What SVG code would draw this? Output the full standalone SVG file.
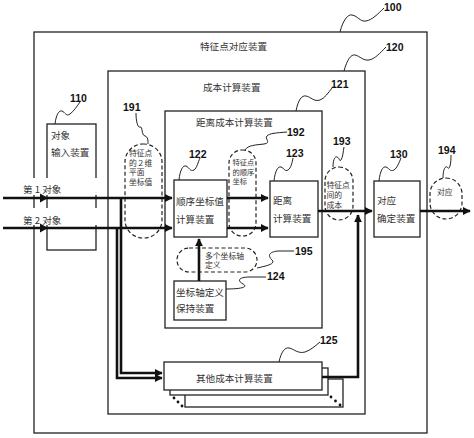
<svg xmlns="http://www.w3.org/2000/svg" width="474" height="438" viewBox="0 0 474 438">
<defs>
<style>
.box{fill:#fff;stroke:#222;stroke-width:1.3}
.frame{fill:none;stroke:#222;stroke-width:1.3}
.oval{fill:none;stroke:#222;stroke-width:1.2;stroke-dasharray:4 2.5}
.t{font-family:"Noto Sans CJK SC","Noto Sans",sans-serif;fill:#333;font-size:9.6px}
.ts{font-family:"Noto Sans CJK SC","Noto Sans",sans-serif;fill:#333;font-size:7.8px}
.tx{font-family:"Noto Sans CJK SC","Noto Sans",sans-serif;fill:#333;font-size:7.3px}
.num{font-family:"Liberation Sans",Arial,sans-serif;font-weight:bold;fill:#111;font-size:10.5px}
.lead{fill:none;stroke:#222;stroke-width:1}
.arr{fill:none;stroke:#111;stroke-width:2.6}
.head{fill:#111}
</style>
<marker id="ah" viewBox="0 0 10 10" refX="9" refY="5" markerWidth="3.2" markerHeight="3" orient="auto" markerUnits="strokeWidth">
<path d="M0,0 L10,5 L0,10 z" fill="#111"/>
</marker>
</defs>
<rect width="474" height="438" fill="#fff"/>

<g id="n100">
<rect class="frame" x="34" y="32" width="393" height="401"/>
<text class="t" x="200" y="50">特征点对应装置</text>
</g>
<g id="n120">
<rect class="frame" x="108" y="71" width="257" height="343"/>
<text class="t" x="203" y="91">成本计算装置</text>
</g>
<g id="n121">
<rect class="frame" x="165" y="111" width="157" height="217"/>
<text class="t" x="196" y="126">距离成本计算装置</text>
</g>
<g id="n110">
<rect class="frame" x="47" y="124" width="49" height="126"/>
<text class="t" x="51" y="139">对象</text>
<text class="t" x="51" y="156">输入装置</text>
</g>

<!-- gaps in vertical lines near inputs -->
<rect x="28" y="178" width="73" height="17" fill="#fff"/>
<rect x="28" y="208" width="73" height="17" fill="#fff"/>
<text class="t" x="23" y="192.5">第 1 对象</text>
<text class="t" x="23" y="223.5">第 2 对象</text>

<g id="n191">
<rect class="oval" x="125" y="144" width="37" height="94" rx="18" ry="18"/>
<text class="ts" x="129" y="156">特征点</text>
<text class="ts" x="129" y="165.5">的２维</text>
<text class="ts" x="129" y="175">平面</text>
<text class="ts" x="129" y="184.5">坐标值</text>
</g>
<g id="n192">
<rect class="oval" x="229" y="150" width="27" height="86" rx="13" ry="13"/>
<text class="tx" x="232.5" y="165">特征点</text>
<text class="tx" x="232.5" y="174.5">的顺序</text>
<text class="tx" x="232.5" y="184">坐标</text>
</g>
<g id="n193">
<rect class="oval" x="325" y="167" width="28" height="53" rx="14" ry="14"/>
<text class="ts" x="326.5" y="188">特征点</text>
<text class="ts" x="326.5" y="198">间的</text>
<text class="ts" x="326.5" y="208">成本</text>
</g>
<g id="n194">
<rect class="oval" x="430" y="178" width="32" height="41" rx="16" ry="16"/>
<text class="ts" x="437" y="195">对应</text>
</g>
<g id="n195">
<rect class="oval" x="177" y="248" width="80" height="24" rx="12" ry="12"/>
<text class="ts" x="205" y="258.5">多个坐标轴</text>
<text class="ts" x="205" y="268">定义</text>
</g>

<g id="n122">
<rect class="box" x="174" y="180" width="53" height="57"/>
<text class="t" x="176" y="204.5">顺序坐标值</text>
<text class="t" x="176" y="222.5">计算装置</text>
</g>
<g id="n123">
<rect class="box" x="270" y="181" width="48" height="56"/>
<text class="t" x="273" y="203.5">距离</text>
<text class="t" x="273" y="221.5">计算装置</text>
</g>
<g id="n130">
<rect class="box" x="374" y="181" width="46" height="56"/>
<text class="t" x="377" y="203.5">对应</text>
<text class="t" x="377" y="221.5">确定装置</text>
</g>
<g id="n124">
<rect class="box" x="174" y="281" width="52" height="39"/>
<text class="t" x="176" y="295.5">坐标轴定义</text>
<text class="t" x="176" y="311.5">保持装置</text>
</g>
<g id="n125">
<rect class="box" x="185" y="379" width="158" height="28"/>
<rect class="box" x="170" y="368" width="158" height="27"/>
<rect class="box" x="164" y="362" width="158" height="28"/>
<text class="t" x="196" y="381.5">其他成本计算装置</text>
<g fill="#111">
<circle cx="174" cy="398" r="1.4"/><circle cx="178" cy="402" r="1.4"/><circle cx="182" cy="406" r="1.4"/>
<circle cx="331" cy="397" r="1.4"/><circle cx="335.5" cy="401" r="1.4"/><circle cx="340" cy="405" r="1.4"/>
</g>
</g>

<g id="connectors">
<path class="arr" d="M3,198 H172" marker-end="url(#ah)"/>
<path class="arr" d="M3,228 H172" marker-end="url(#ah)"/>
<polygon class="head" points="40,193.5 48,198 40,202.5"/>
<polygon class="head" points="40,223.5 48,228 40,232.5"/>
<path class="arr" d="M227,198 H268" marker-end="url(#ah)"/>
<path class="arr" d="M227,228 H268" marker-end="url(#ah)"/>
<path class="arr" d="M318,211 H372" marker-end="url(#ah)"/>
<path class="arr" d="M420,211 H470" marker-end="url(#ah)"/>
<path class="arr" d="M199,281 V239" marker-end="url(#ah)"/>
<path class="arr" d="M322,377 H358 V215" marker-end="url(#ah)"/>
<path class="arr" d="M121,198 V373 H162" marker-end="url(#ah)"/>
<path class="arr" d="M117,228 V378 H162" marker-end="url(#ah)"/>
</g>

<g id="leaders">
<path class="lead" d="M340,32 C343,20 348,14 352,15 C358,16 360,22 366,21 C372,20 378,14 384,8"/>
<path class="lead" d="M344,71 C347,60 351,54 355,55 C360,56 363,61 369,60 C375,59 380,53 386,47"/>
<path class="lead" d="M296,111 C298,100 302,95 306,96 C311,97 314,102 320,100 C325,98 328,93 332,88"/>
<path class="lead" d="M55,124 C56,115 59,110 62,111 C65,112 66,117 70,114 C74,111 77,106 80,102"/>
<path class="lead" d="M136,113 C136,122 138,128 140,127 C143,126 141,135 145,136 C148,137 148,140 148,144"/>
<path class="lead" d="M179,180 C180,170 183,165 186,166 C189,167 190,172 194,170 C197,168 198,162 200,158"/>
<path class="lead" d="M245,150 C248,145 256,145 264,144 C272,143 264,138 267,136 C270,133 276,133 287,132"/>
<path class="lead" d="M274,181 C275,171 278,166 281,167 C284,168 285,172 288,170 C291,168 292,163 293,158"/>
<path class="lead" d="M333,167 C333,160 335,156 337,157 C340,158 339,162 341,160 C343,157 343,152 344,147"/>
<path class="lead" d="M379,181 C380,171 383,166 386,167 C389,168 390,172 394,170 C397,168 399,163 401,158"/>
<path class="lead" d="M443,178 C443,170 445,166 447,167 C449,168 448,170 450,166 C451,162 451,158 451,155"/>
<path class="lead" d="M257,268 C266,266 276,264 272,260 C268,256 268,252 278,251 L294,251"/>
<path class="lead" d="M226,289 C236,289 250,288 243,284 C236,280 240,277 250,277 L266,277"/>
<path class="lead" d="M279,362 C281,352 285,347 289,348 C294,349 298,354 305,352 C311,350 315,346 320,342"/>
</g>

<g id="labels">
<text class="num" x="384" y="11">100</text>
<text class="num" x="386" y="51">120</text>
<text class="num" x="331" y="88">121</text>
<text class="num" x="70" y="102">110</text>
<text class="num" x="123" y="111">191</text>
<text class="num" x="189" y="158">122</text>
<text class="num" x="287" y="136">192</text>
<text class="num" x="286" y="157">123</text>
<text class="num" x="333" y="145">193</text>
<text class="num" x="390" y="158">130</text>
<text class="num" x="438" y="154">194</text>
<text class="num" x="295" y="255">195</text>
<text class="num" x="267" y="280">124</text>
<text class="num" x="320" y="344">125</text>
</g>
</svg>
